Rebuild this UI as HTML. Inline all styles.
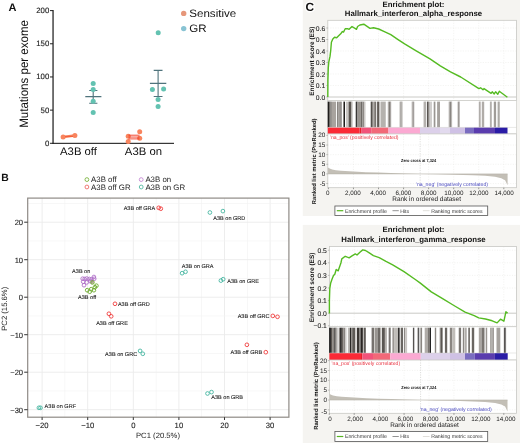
<!DOCTYPE html><html><head><meta charset="utf-8"><style>html,body{margin:0;padding:0;background:#fff;width:520px;height:443px;overflow:hidden}svg{display:block;will-change:transform}text{font-family:"Liberation Sans",sans-serif;text-rendering:geometricPrecision}</style></head><body>
<svg width="520" height="443" viewBox="0 0 520 443">
<text x="8.5" y="10.9" font-size="11" font-weight="bold" fill="#111">A</text>
<rect x="52.4" y="10" width="1.3" height="134" fill="#2a2a2a"/>
<rect x="50" y="142.80" width="3" height="1" fill="#222"/>
<text x="49.3" y="145.80" font-size="7.8" text-anchor="end" fill="#222" stroke="#222" stroke-width="0.12">0</text>
<rect x="50" y="109.62" width="3" height="1" fill="#222"/>
<text x="49.3" y="112.62" font-size="7.8" text-anchor="end" fill="#222" stroke="#222" stroke-width="0.12">50</text>
<rect x="50" y="76.45" width="3" height="1" fill="#222"/>
<text x="49.3" y="79.45" font-size="7.8" text-anchor="end" fill="#222" stroke="#222" stroke-width="0.12">100</text>
<rect x="50" y="43.27" width="3" height="1" fill="#222"/>
<text x="49.3" y="46.27" font-size="7.8" text-anchor="end" fill="#222" stroke="#222" stroke-width="0.12">150</text>
<rect x="50" y="10.10" width="3" height="1" fill="#222"/>
<text x="49.3" y="13.10" font-size="7.8" text-anchor="end" fill="#222" stroke="#222" stroke-width="0.12">200</text>
<text transform="translate(28.1,73.9) scale(1.06,1) rotate(-90)" font-size="11.55" text-anchor="middle" fill="#111">Mutations per exome</text>
<rect x="52.5" y="142.8" width="121.5" height="1.1" fill="#222"/>
<text transform="translate(78.5,155.3) scale(1.035,1)" font-size="10.95" text-anchor="middle" fill="#111">A3B off</text>
<text transform="translate(143.4,155.3) scale(1.035,1)" font-size="10.95" text-anchor="middle" fill="#111">A3B on</text>
<g stroke="#4f737c" stroke-width="1.1" fill="none"><path d="M93.2 90.4V103.2M89.2 90.5H97.4M89.2 103.2H97.4M85.3 96.6H101.4"/></g>
<g stroke="#4f737c" stroke-width="1.1" fill="none"><path d="M158.1 70.4V96.5M153.7 70.4H162.5M153.7 96.5H162.5M149.9 83.4H166.3"/></g>
<circle cx="93.2" cy="83.4" r="2.5" fill="#63c2b1"/>
<circle cx="93.2" cy="89.5" r="2.5" fill="#63c2b1"/>
<circle cx="93.2" cy="101.3" r="2.5" fill="#63c2b1"/>
<circle cx="93.2" cy="112.5" r="2.5" fill="#63c2b1"/>
<circle cx="158.2" cy="32.8" r="2.5" fill="#63c2b1"/>
<circle cx="152.4" cy="89.6" r="2.5" fill="#63c2b1"/>
<circle cx="163.6" cy="89.0" r="2.5" fill="#63c2b1"/>
<circle cx="158.1" cy="99.6" r="2.5" fill="#63c2b1"/>
<circle cx="158.1" cy="106.4" r="2.5" fill="#63c2b1"/>
<circle cx="63.1" cy="137.1" r="2.5" fill="#f8845e"/>
<circle cx="74.9" cy="135.4" r="2.5" fill="#f8845e"/>
<path d="M63.5 137.0L74.5 135.5" stroke="#f8845e" stroke-width="2.6" fill="none"/>
<path d="M65 136.4H73" stroke="#f04a26" stroke-width="0.7" fill="none"/>
<circle cx="128.2" cy="136.3" r="2.5" fill="#f8845e"/>
<circle cx="128.2" cy="141.6" r="2.5" fill="#f8845e"/>
<circle cx="139.7" cy="131.7" r="2.5" fill="#f8845e"/>
<circle cx="139.7" cy="138.3" r="2.5" fill="#f8845e"/>
<g stroke="#f0341c" stroke-width="0.9" fill="none"><path d="M128.5 135.2H139.5M128.5 137.05H139.5M128.5 138.9H139.5"/></g>
<circle cx="183.7" cy="13.4" r="2.7" fill="#e6977a"/>
<circle cx="183.7" cy="28.6" r="2.7" fill="#88c3d3"/>
<text transform="translate(189.3,17.1) scale(1.075,1)" font-size="10.75" fill="#111">Sensitive</text>
<text transform="translate(189.3,32.3) scale(1.075,1)" font-size="10.75" fill="#111">GR</text>
<text x="1.2" y="181.2" font-size="10.4" font-weight="bold" fill="#111">B</text>
<circle cx="86.9" cy="179.6" r="1.9" fill="none" stroke="#79b33b" stroke-width="0.9"/>
<text x="91.10000000000001" y="182.35" font-size="7.85" fill="#222">A3B off</text>
<circle cx="86.9" cy="187.0" r="1.9" fill="none" stroke="#ee6a64" stroke-width="0.9"/>
<text x="91.10000000000001" y="189.75" font-size="7.85" fill="#222">A3B off GR</text>
<circle cx="141.2" cy="179.6" r="1.9" fill="none" stroke="#c487d4" stroke-width="0.9"/>
<text x="145.39999999999998" y="182.35" font-size="7.85" fill="#222">A3B on</text>
<circle cx="141.2" cy="187.0" r="1.9" fill="none" stroke="#53b9a3" stroke-width="0.9"/>
<text x="145.39999999999998" y="189.75" font-size="7.85" fill="#222">A3B on GR</text>
<rect x="41.65" y="198.1" width="0.9" height="219.1" fill="#ebebeb"/>
<rect x="87.25" y="198.1" width="0.9" height="219.1" fill="#ebebeb"/>
<rect x="132.85" y="198.1" width="0.9" height="219.1" fill="#ebebeb"/>
<rect x="178.45" y="198.1" width="0.9" height="219.1" fill="#ebebeb"/>
<rect x="224.05" y="198.1" width="0.9" height="219.1" fill="#ebebeb"/>
<rect x="269.65" y="198.1" width="0.9" height="219.1" fill="#ebebeb"/>
<rect x="64.60" y="198.1" width="0.6" height="219.1" fill="#f2f2f2"/>
<rect x="110.20" y="198.1" width="0.6" height="219.1" fill="#f2f2f2"/>
<rect x="155.80" y="198.1" width="0.6" height="219.1" fill="#f2f2f2"/>
<rect x="201.40" y="198.1" width="0.6" height="219.1" fill="#f2f2f2"/>
<rect x="247.00" y="198.1" width="0.6" height="219.1" fill="#f2f2f2"/>
<rect x="27.7" y="409.25" width="261.2" height="0.9" fill="#ebebeb"/>
<rect x="27.7" y="371.75" width="261.2" height="0.9" fill="#ebebeb"/>
<rect x="27.7" y="334.25" width="261.2" height="0.9" fill="#ebebeb"/>
<rect x="27.7" y="296.75" width="261.2" height="0.9" fill="#ebebeb"/>
<rect x="27.7" y="259.25" width="261.2" height="0.9" fill="#ebebeb"/>
<rect x="27.7" y="221.75" width="261.2" height="0.9" fill="#ebebeb"/>
<rect x="27.7" y="390.65" width="261.2" height="0.6" fill="#f2f2f2"/>
<rect x="27.7" y="353.15" width="261.2" height="0.6" fill="#f2f2f2"/>
<rect x="27.7" y="315.65" width="261.2" height="0.6" fill="#f2f2f2"/>
<rect x="27.7" y="278.15" width="261.2" height="0.6" fill="#f2f2f2"/>
<rect x="27.7" y="240.65" width="261.2" height="0.6" fill="#f2f2f2"/>
<rect x="27.7" y="203.15" width="261.2" height="0.6" fill="#f2f2f2"/>
<rect x="27.7" y="198.1" width="261.2" height="219.1" fill="none" stroke="#8f8b86" stroke-width="1.2"/>
<rect x="24.2" y="409.20" width="3.5" height="1" fill="#333"/>
<text x="23.1" y="412.50" font-size="7.6" text-anchor="end" fill="#222" stroke="#222" stroke-width="0.1">−30</text>
<rect x="24.2" y="371.70" width="3.5" height="1" fill="#333"/>
<text x="23.1" y="375.00" font-size="7.6" text-anchor="end" fill="#222" stroke="#222" stroke-width="0.1">−20</text>
<rect x="24.2" y="334.20" width="3.5" height="1" fill="#333"/>
<text x="23.1" y="337.50" font-size="7.6" text-anchor="end" fill="#222" stroke="#222" stroke-width="0.1">−10</text>
<rect x="24.2" y="296.70" width="3.5" height="1" fill="#333"/>
<text x="23.1" y="300.00" font-size="7.6" text-anchor="end" fill="#222" stroke="#222" stroke-width="0.1">0</text>
<rect x="24.2" y="259.20" width="3.5" height="1" fill="#333"/>
<text x="23.1" y="262.50" font-size="7.6" text-anchor="end" fill="#222" stroke="#222" stroke-width="0.1">10</text>
<rect x="24.2" y="221.70" width="3.5" height="1" fill="#333"/>
<text x="23.1" y="225.00" font-size="7.6" text-anchor="end" fill="#222" stroke="#222" stroke-width="0.1">20</text>
<rect x="41.60" y="417.2" width="1" height="2.8" fill="#333"/>
<text x="42.10" y="427.80" font-size="7.7" text-anchor="middle" fill="#222" stroke="#222" stroke-width="0.1">−20</text>
<rect x="87.20" y="417.2" width="1" height="2.8" fill="#333"/>
<text x="87.70" y="427.80" font-size="7.7" text-anchor="middle" fill="#222" stroke="#222" stroke-width="0.1">−10</text>
<rect x="132.80" y="417.2" width="1" height="2.8" fill="#333"/>
<text x="133.30" y="427.80" font-size="7.7" text-anchor="middle" fill="#222" stroke="#222" stroke-width="0.1">0</text>
<rect x="178.40" y="417.2" width="1" height="2.8" fill="#333"/>
<text x="178.90" y="427.80" font-size="7.7" text-anchor="middle" fill="#222" stroke="#222" stroke-width="0.1">10</text>
<rect x="224.00" y="417.2" width="1" height="2.8" fill="#333"/>
<text x="224.50" y="427.80" font-size="7.7" text-anchor="middle" fill="#222" stroke="#222" stroke-width="0.1">20</text>
<rect x="269.60" y="417.2" width="1" height="2.8" fill="#333"/>
<text x="270.10" y="427.80" font-size="7.7" text-anchor="middle" fill="#222" stroke="#222" stroke-width="0.1">30</text>
<text x="158" y="438.2" font-size="7.7" text-anchor="middle" fill="#222">PC1 (20.5%)</text>
<text transform="translate(7,308.8) rotate(-90)" font-size="7.7" text-anchor="middle" fill="#222">PC2 (15.6%)</text>
<circle cx="82.7" cy="278.7" r="1.85" fill="none" stroke="#b070c8" stroke-width="0.9"/>
<circle cx="84.7" cy="279" r="1.85" fill="none" stroke="#b070c8" stroke-width="0.9"/>
<circle cx="86.7" cy="278.5" r="1.85" fill="none" stroke="#b070c8" stroke-width="0.9"/>
<circle cx="89.4" cy="279" r="1.85" fill="none" stroke="#b070c8" stroke-width="0.9"/>
<circle cx="93.9" cy="277" r="1.85" fill="none" stroke="#b070c8" stroke-width="0.9"/>
<circle cx="94.2" cy="278.8" r="1.85" fill="none" stroke="#b070c8" stroke-width="0.9"/>
<circle cx="91.5" cy="279.3" r="1.85" fill="none" stroke="#b070c8" stroke-width="0.9"/>
<circle cx="83.2" cy="281.7" r="1.85" fill="none" stroke="#b070c8" stroke-width="0.9"/>
<circle cx="86.7" cy="282.4" r="1.85" fill="none" stroke="#b070c8" stroke-width="0.9"/>
<circle cx="84" cy="285.2" r="1.85" fill="none" stroke="#b070c8" stroke-width="0.9"/>
<circle cx="90.4" cy="281.2" r="1.85" fill="none" stroke="#b070c8" stroke-width="0.9"/>
<circle cx="92.4" cy="282.4" r="1.85" fill="none" stroke="#6aa92a" stroke-width="0.9"/>
<circle cx="87.2" cy="290.2" r="1.85" fill="none" stroke="#6aa92a" stroke-width="0.9"/>
<circle cx="89.7" cy="291.7" r="1.85" fill="none" stroke="#6aa92a" stroke-width="0.9"/>
<circle cx="91.2" cy="289.2" r="1.85" fill="none" stroke="#6aa92a" stroke-width="0.9"/>
<circle cx="93.9" cy="290.2" r="1.85" fill="none" stroke="#6aa92a" stroke-width="0.9"/>
<circle cx="94.9" cy="287.2" r="1.85" fill="none" stroke="#6aa92a" stroke-width="0.9"/>
<circle cx="96.4" cy="285.7" r="1.85" fill="none" stroke="#6aa92a" stroke-width="0.9"/>
<circle cx="92.4" cy="282.4" r="1.6" fill="#8a8f55" opacity="0.6"/>
<text x="81.2" y="272.60" font-size="5.55" text-anchor="middle" fill="#1a1a1a" stroke="#1a1a1a" stroke-width="0.09">A3B on</text>
<text x="87.1" y="299.30" font-size="5.55" text-anchor="middle" fill="#1a1a1a" stroke="#1a1a1a" stroke-width="0.09">A3B off</text>
<circle cx="115" cy="303.8" r="1.85" fill="none" stroke="#ef3b3b" stroke-width="0.9"/>
<text x="117.9" y="305.70" font-size="5.55" text-anchor="start" fill="#1a1a1a" stroke="#1a1a1a" stroke-width="0.09">A3B off GRD</text>
<circle cx="108.9" cy="313.75" r="1.85" fill="none" stroke="#ef3b3b" stroke-width="0.9"/>
<circle cx="111.2" cy="316.3" r="1.85" fill="none" stroke="#ef3b3b" stroke-width="0.9"/>
<text x="112" y="324.80" font-size="5.55" text-anchor="middle" fill="#1a1a1a" stroke="#1a1a1a" stroke-width="0.09">A3B off GRE</text>
<circle cx="158.7" cy="207.8" r="1.85" fill="none" stroke="#ef3b3b" stroke-width="0.9"/>
<circle cx="160.8" cy="208.7" r="1.85" fill="none" stroke="#ef3b3b" stroke-width="0.9"/>
<text x="155.3" y="210.40" font-size="5.55" text-anchor="end" fill="#1a1a1a" stroke="#1a1a1a" stroke-width="0.09">A3B off GRA</text>
<circle cx="272.8" cy="315.9" r="1.85" fill="none" stroke="#ef3b3b" stroke-width="0.9"/>
<circle cx="277.5" cy="316.8" r="1.85" fill="none" stroke="#ef3b3b" stroke-width="0.9"/>
<text x="269.6" y="317.80" font-size="5.55" text-anchor="end" fill="#1a1a1a" stroke="#1a1a1a" stroke-width="0.09">A3B off GRC</text>
<circle cx="246.9" cy="344.8" r="1.85" fill="none" stroke="#ef3b3b" stroke-width="0.9"/>
<circle cx="265.8" cy="352.2" r="1.85" fill="none" stroke="#ef3b3b" stroke-width="0.9"/>
<text x="262.2" y="353.70" font-size="5.55" text-anchor="end" fill="#1a1a1a" stroke="#1a1a1a" stroke-width="0.09">A3B off GRB</text>
<circle cx="209.9" cy="212.5" r="1.85" fill="none" stroke="#45b5a0" stroke-width="0.9"/>
<circle cx="222.9" cy="211.1" r="1.85" fill="none" stroke="#45b5a0" stroke-width="0.9"/>
<text x="213.3" y="219.90" font-size="5.55" text-anchor="start" fill="#1a1a1a" stroke="#1a1a1a" stroke-width="0.09">A3B on GRD</text>
<circle cx="182.1" cy="273.2" r="1.85" fill="none" stroke="#45b5a0" stroke-width="0.9"/>
<circle cx="185.5" cy="271.8" r="1.85" fill="none" stroke="#45b5a0" stroke-width="0.9"/>
<text x="181.8" y="268.30" font-size="5.55" text-anchor="start" fill="#1a1a1a" stroke="#1a1a1a" stroke-width="0.09">A3B on GRA</text>
<circle cx="220.9" cy="280.6" r="1.85" fill="none" stroke="#45b5a0" stroke-width="0.9"/>
<circle cx="223.2" cy="279.2" r="1.85" fill="none" stroke="#45b5a0" stroke-width="0.9"/>
<text x="227.2" y="282.50" font-size="5.55" text-anchor="start" fill="#1a1a1a" stroke="#1a1a1a" stroke-width="0.09">A3B on GRE</text>
<circle cx="140.1" cy="350.9" r="1.85" fill="none" stroke="#45b5a0" stroke-width="0.9"/>
<circle cx="142.8" cy="353.8" r="1.85" fill="none" stroke="#45b5a0" stroke-width="0.9"/>
<text x="137.2" y="356.00" font-size="5.55" text-anchor="end" fill="#1a1a1a" stroke="#1a1a1a" stroke-width="0.09">A3B on GRC</text>
<circle cx="207.5" cy="393.5" r="1.85" fill="none" stroke="#45b5a0" stroke-width="0.9"/>
<circle cx="211.5" cy="392.1" r="1.85" fill="none" stroke="#45b5a0" stroke-width="0.9"/>
<text x="211.3" y="399.40" font-size="5.55" text-anchor="start" fill="#1a1a1a" stroke="#1a1a1a" stroke-width="0.09">A3B on GRB</text>
<circle cx="38.9" cy="407.8" r="1.85" fill="none" stroke="#45b5a0" stroke-width="0.9"/>
<circle cx="40.5" cy="407.8" r="1.85" fill="none" stroke="#45b5a0" stroke-width="0.9"/>
<text x="44.6" y="407.80" font-size="5.55" text-anchor="start" fill="#1a1a1a" stroke="#1a1a1a" stroke-width="0.09">A3B on GRF</text><rect x="302.8" y="0" width="217.2" height="216" fill="#f5f4f1"/>
<text x="305.5" y="11.2" font-size="11.9" font-weight="bold" fill="#fff" stroke="#fff" stroke-width="2.6" stroke-linejoin="round" opacity="0.9">C</text>
<text x="305.5" y="11.2" font-size="11.9" font-weight="bold" fill="#111">C</text>
<text x="413.5" y="6.9" font-size="7.8" font-weight="bold" text-anchor="middle" fill="#111">Enrichment plot:</text>
<text x="413.5" y="16.4" font-size="7.8" font-weight="bold" text-anchor="middle" fill="#111">Hallmark_interferon_alpha_response</text>
<rect x="327.8" y="20.3" width="188.7" height="80.4" fill="#fff"/>
<line x1="353.46" y1="20.3" x2="353.46" y2="100.7" stroke="#e9e9e6" stroke-width="0.55" stroke-dasharray="1.1,1.4"/>
<line x1="378.52" y1="20.3" x2="378.52" y2="100.7" stroke="#e9e9e6" stroke-width="0.55" stroke-dasharray="1.1,1.4"/>
<line x1="403.58" y1="20.3" x2="403.58" y2="100.7" stroke="#e9e9e6" stroke-width="0.55" stroke-dasharray="1.1,1.4"/>
<line x1="428.64" y1="20.3" x2="428.64" y2="100.7" stroke="#e9e9e6" stroke-width="0.55" stroke-dasharray="1.1,1.4"/>
<line x1="453.70" y1="20.3" x2="453.70" y2="100.7" stroke="#e9e9e6" stroke-width="0.55" stroke-dasharray="1.1,1.4"/>
<line x1="478.76" y1="20.3" x2="478.76" y2="100.7" stroke="#e9e9e6" stroke-width="0.55" stroke-dasharray="1.1,1.4"/>
<line x1="503.82" y1="20.3" x2="503.82" y2="100.7" stroke="#e9e9e6" stroke-width="0.55" stroke-dasharray="1.1,1.4"/>
<line x1="327.8" y1="85.50" x2="516.5" y2="85.50" stroke="#e9e9e6" stroke-width="0.55" stroke-dasharray="1.1,1.4"/>
<line x1="327.8" y1="74.00" x2="516.5" y2="74.00" stroke="#e9e9e6" stroke-width="0.55" stroke-dasharray="1.1,1.4"/>
<line x1="327.8" y1="62.50" x2="516.5" y2="62.50" stroke="#e9e9e6" stroke-width="0.55" stroke-dasharray="1.1,1.4"/>
<line x1="327.8" y1="51.00" x2="516.5" y2="51.00" stroke="#e9e9e6" stroke-width="0.55" stroke-dasharray="1.1,1.4"/>
<line x1="327.8" y1="39.50" x2="516.5" y2="39.50" stroke="#e9e9e6" stroke-width="0.55" stroke-dasharray="1.1,1.4"/>
<line x1="327.8" y1="28.00" x2="516.5" y2="28.00" stroke="#e9e9e6" stroke-width="0.55" stroke-dasharray="1.1,1.4"/>
<line x1="327.8" y1="97.00" x2="516.5" y2="97.00" stroke="#bdbdb8" stroke-width="0.8"/>
<rect x="327.8" y="20.3" width="188.7" height="80.4" fill="none" stroke="#c8c8c4" stroke-width="0.8"/>
<line x1="326.3" y1="97.00" x2="327.8" y2="97.00" stroke="#999" stroke-width="0.6"/>
<text x="325.2" y="99.50" font-size="6.75" text-anchor="end" fill="#222" stroke="#222" stroke-width="0.08">0.0</text>
<line x1="326.3" y1="85.50" x2="327.8" y2="85.50" stroke="#999" stroke-width="0.6"/>
<text x="325.2" y="88.00" font-size="6.75" text-anchor="end" fill="#222" stroke="#222" stroke-width="0.08">0.1</text>
<line x1="326.3" y1="74.00" x2="327.8" y2="74.00" stroke="#999" stroke-width="0.6"/>
<text x="325.2" y="76.50" font-size="6.75" text-anchor="end" fill="#222" stroke="#222" stroke-width="0.08">0.2</text>
<line x1="326.3" y1="62.50" x2="327.8" y2="62.50" stroke="#999" stroke-width="0.6"/>
<text x="325.2" y="65.00" font-size="6.75" text-anchor="end" fill="#222" stroke="#222" stroke-width="0.08">0.3</text>
<line x1="326.3" y1="51.00" x2="327.8" y2="51.00" stroke="#999" stroke-width="0.6"/>
<text x="325.2" y="53.50" font-size="6.75" text-anchor="end" fill="#222" stroke="#222" stroke-width="0.08">0.4</text>
<line x1="326.3" y1="39.50" x2="327.8" y2="39.50" stroke="#999" stroke-width="0.6"/>
<text x="325.2" y="42.00" font-size="6.75" text-anchor="end" fill="#222" stroke="#222" stroke-width="0.08">0.5</text>
<line x1="326.3" y1="28.00" x2="327.8" y2="28.00" stroke="#999" stroke-width="0.6"/>
<text x="325.2" y="30.50" font-size="6.75" text-anchor="end" fill="#222" stroke="#222" stroke-width="0.08">0.6</text>
<text transform="translate(313.7,61.2) rotate(-90)" font-size="6.45" font-weight="bold" text-anchor="middle" fill="#111">Enrichment score (ES)</text>
<polyline points="327.8,97.0 327.9,80.0 328.3,67.7 328.8,62.0 330.0,56.4 330.7,50.7 331.4,42.3 332.8,38.9 334.5,37.2 336.7,37.8 338.4,36.1 340.7,33.8 342.4,31.5 343.5,32.1 345.2,28.7 347.4,28.7 349.1,29.3 352.0,26.5 356.5,29.3 357.6,26.5 359.9,25.0 363.8,24.2 370.0,28.4 373.5,27.8 378.7,29.0 383.8,31.3 390.8,34.7 397.7,39.3 404.6,43.9 416.2,50.8 430.0,58.9 440.3,65.8 450.5,71.9 460.7,77.0 478.9,88.6 480.6,87.8 483.0,89.8 484.0,88.6 491.1,93.3 492.2,91.8 494.2,93.9 495.6,91.8 497.8,94.3 499.3,91.2 507.4,97.3" fill="none" stroke="#55bb22" stroke-width="1.4" stroke-linejoin="round"/>
<rect x="327.8" y="100.7" width="188.7" height="33.2" fill="#fff" stroke="#c8c8c4" stroke-width="0.6"/>
<rect x="327.70" y="101.6" width="1.50" height="25.80000000000001" fill="#1e1c1b"/>
<rect x="329.20" y="101.6" width="1.30" height="25.80000000000001" fill="#55514d"/>
<rect x="330.50" y="101.6" width="1.30" height="25.80000000000001" fill="#7a7672"/>
<rect x="331.80" y="101.6" width="4.30" height="25.80000000000001" fill="#a8a39e"/>
<rect x="337.00" y="101.6" width="1.10" height="25.80000000000001" fill="#8a8682"/>
<rect x="338.10" y="101.6" width="2.30" height="25.80000000000001" fill="#a09c98"/>
<rect x="340.40" y="101.6" width="1.20" height="25.80000000000001" fill="#6a6662"/>
<rect x="343.00" y="101.6" width="0.90" height="25.80000000000001" fill="#8a8682"/>
<rect x="343.90" y="101.6" width="1.10" height="25.80000000000001" fill="#1e1c1b"/>
<rect x="345.90" y="101.6" width="2.40" height="25.80000000000001" fill="#cac7c4"/>
<rect x="348.30" y="101.6" width="0.50" height="25.80000000000001" fill="#8a8682"/>
<rect x="348.80" y="101.6" width="2.60" height="25.80000000000001" fill="#5a5550"/>
<rect x="351.40" y="101.6" width="1.10" height="25.80000000000001" fill="#b0aca8"/>
<rect x="355.70" y="101.6" width="1.80" height="25.80000000000001" fill="#3a3836"/>
<rect x="357.50" y="101.6" width="3.40" height="25.80000000000001" fill="#98948f"/>
<rect x="360.90" y="101.6" width="1.60" height="25.80000000000001" fill="#6e6a66"/>
<rect x="362.50" y="101.6" width="1.90" height="25.80000000000001" fill="#8e8a86"/>
<rect x="364.40" y="101.6" width="1.10" height="25.80000000000001" fill="#cac7c4"/>
<rect x="370.70" y="101.6" width="1.30" height="25.80000000000001" fill="#55514d"/>
<rect x="372.00" y="101.6" width="1.00" height="25.80000000000001" fill="#8a8682"/>
<rect x="373.00" y="101.6" width="1.20" height="25.80000000000001" fill="#b0aca8"/>
<rect x="374.20" y="101.6" width="2.00" height="25.80000000000001" fill="#7a7570"/>
<rect x="377.10" y="101.6" width="2.30" height="25.80000000000001" fill="#605a55"/>
<rect x="380.50" y="101.6" width="5.25" height="25.80000000000001" fill="#b5b2ae"/>
<rect x="387.80" y="101.6" width="1.20" height="25.80000000000001" fill="#b0aca8"/>
<rect x="389.00" y="101.6" width="1.70" height="25.80000000000001" fill="#807c78"/>
<rect x="390.70" y="101.6" width="0.50" height="25.80000000000001" fill="#b0aca8"/>
<rect x="399.60" y="101.6" width="0.90" height="25.80000000000001" fill="#b0aca8"/>
<rect x="400.50" y="101.6" width="1.10" height="25.80000000000001" fill="#8a8682"/>
<rect x="401.60" y="101.6" width="0.90" height="25.80000000000001" fill="#b0aca8"/>
<rect x="411.70" y="101.6" width="1.00" height="25.80000000000001" fill="#b0aca8"/>
<rect x="412.70" y="101.6" width="1.10" height="25.80000000000001" fill="#8a8682"/>
<rect x="413.80" y="101.6" width="0.50" height="25.80000000000001" fill="#b0aca8"/>
<rect x="423.60" y="101.6" width="1.10" height="25.80000000000001" fill="#b0aca8"/>
<rect x="424.70" y="101.6" width="0.90" height="25.80000000000001" fill="#8a8682"/>
<rect x="425.60" y="101.6" width="0.60" height="25.80000000000001" fill="#b0aca8"/>
<rect x="427.00" y="101.6" width="1.20" height="25.80000000000001" fill="#5a5652"/>
<rect x="428.20" y="101.6" width="1.30" height="25.80000000000001" fill="#7a7672"/>
<rect x="430.60" y="101.6" width="0.80" height="25.80000000000001" fill="#8a8682"/>
<rect x="433.70" y="101.6" width="1.70" height="25.80000000000001" fill="#9a9692"/>
<rect x="437.10" y="101.6" width="2.90" height="25.80000000000001" fill="#a6a29e"/>
<rect x="448.70" y="101.6" width="0.80" height="25.80000000000001" fill="#b0aca8"/>
<rect x="449.50" y="101.6" width="2.00" height="25.80000000000001" fill="#8a8682"/>
<rect x="451.50" y="101.6" width="0.60" height="25.80000000000001" fill="#b0aca8"/>
<rect x="457.60" y="101.6" width="0.60" height="25.80000000000001" fill="#b0aca8"/>
<rect x="458.20" y="101.6" width="1.20" height="25.80000000000001" fill="#8a8682"/>
<rect x="459.40" y="101.6" width="0.50" height="25.80000000000001" fill="#b0aca8"/>
<rect x="478.80" y="101.6" width="0.70" height="25.80000000000001" fill="#b0aca8"/>
<rect x="479.50" y="101.6" width="0.80" height="25.80000000000001" fill="#8a8682"/>
<rect x="480.30" y="101.6" width="0.40" height="25.80000000000001" fill="#b0aca8"/>
<rect x="481.80" y="101.6" width="2.40" height="25.80000000000001" fill="#b0aca8"/>
<rect x="489.90" y="101.6" width="0.70" height="25.80000000000001" fill="#b0aca8"/>
<rect x="490.60" y="101.6" width="0.80" height="25.80000000000001" fill="#8a8682"/>
<rect x="491.40" y="101.6" width="0.40" height="25.80000000000001" fill="#b0aca8"/>
<rect x="493.80" y="101.6" width="2.30" height="25.80000000000001" fill="#a09c98"/>
<rect x="497.60" y="101.6" width="0.80" height="25.80000000000001" fill="#b0aca8"/>
<rect x="498.40" y="101.6" width="0.80" height="25.80000000000001" fill="#8a8682"/>
<rect x="499.20" y="101.6" width="0.70" height="25.80000000000001" fill="#b0aca8"/>
<rect x="327.80" y="127.4" width="31.80" height="6.5" fill="#fb2a36"/>
<rect x="359.60" y="127.4" width="2.00" height="6.5" fill="#e81e2e"/>
<rect x="361.60" y="127.4" width="9.60" height="6.5" fill="#f2537a"/>
<rect x="371.20" y="127.4" width="17.30" height="6.5" fill="#f26878"/>
<rect x="388.50" y="127.4" width="31.50" height="6.5" fill="#fba9d2"/>
<rect x="420.00" y="127.4" width="20.00" height="6.5" fill="#dcd0ea"/>
<rect x="440.00" y="127.4" width="10.00" height="6.5" fill="#e2daee"/>
<rect x="450.00" y="127.4" width="15.00" height="6.5" fill="#cfc1e5"/>
<rect x="465.00" y="127.4" width="9.00" height="6.5" fill="#7a6cc0"/>
<rect x="474.00" y="127.4" width="21.00" height="6.5" fill="#5a3cae"/>
<rect x="495.00" y="127.4" width="12.50" height="6.5" fill="#2a1ca6"/>
<line x1="327.8" y1="127.4" x2="516.5" y2="127.4" stroke="#d0d0cc" stroke-width="0.5"/>
<rect x="327.8" y="133.9" width="188.7" height="53.79999999999998" fill="#fff"/>
<line x1="353.46" y1="133.9" x2="353.46" y2="187.7" stroke="#e9e9e6" stroke-width="0.55" stroke-dasharray="1.1,1.4"/>
<line x1="378.52" y1="133.9" x2="378.52" y2="187.7" stroke="#e9e9e6" stroke-width="0.55" stroke-dasharray="1.1,1.4"/>
<line x1="403.58" y1="133.9" x2="403.58" y2="187.7" stroke="#e9e9e6" stroke-width="0.55" stroke-dasharray="1.1,1.4"/>
<line x1="428.64" y1="133.9" x2="428.64" y2="187.7" stroke="#e9e9e6" stroke-width="0.55" stroke-dasharray="1.1,1.4"/>
<line x1="453.70" y1="133.9" x2="453.70" y2="187.7" stroke="#e9e9e6" stroke-width="0.55" stroke-dasharray="1.1,1.4"/>
<line x1="478.76" y1="133.9" x2="478.76" y2="187.7" stroke="#e9e9e6" stroke-width="0.55" stroke-dasharray="1.1,1.4"/>
<line x1="503.82" y1="133.9" x2="503.82" y2="187.7" stroke="#e9e9e6" stroke-width="0.55" stroke-dasharray="1.1,1.4"/>
<line x1="327.8" y1="145.03" x2="516.5" y2="145.03" stroke="#e9e9e6" stroke-width="0.55" stroke-dasharray="1.1,1.4"/>
<line x1="327.8" y1="154.65" x2="516.5" y2="154.65" stroke="#e9e9e6" stroke-width="0.55" stroke-dasharray="1.1,1.4"/>
<line x1="327.8" y1="164.28" x2="516.5" y2="164.28" stroke="#e9e9e6" stroke-width="0.55" stroke-dasharray="1.1,1.4"/>
<line x1="327.8" y1="183.53" x2="516.5" y2="183.53" stroke="#e9e9e6" stroke-width="0.55" stroke-dasharray="1.1,1.4"/>
<polygon points="327.8,173.9 327.8,167.5 329.7,168.5 332.2,169.5 335.9,170.2 340.9,170.8 353.5,171.6 366.0,172.2 378.5,172.6 391.0,173.0 403.6,173.4 420.2,173.9 434.9,174.3 453.7,174.7 472.5,175.2 485.0,175.8 495.0,176.8 501.3,178.3 505.1,180.3 507.6,185.3 507.6,173.9" fill="#c3bfb6"/>
<line x1="327.8" y1="173.90" x2="507.58" y2="173.90" stroke="#b5b1a8" stroke-width="0.6"/>
<line x1="420.17" y1="133.9" x2="420.17" y2="187.7" stroke="#c8c8c4" stroke-width="0.6" stroke-dasharray="1.2,1.2"/>
<rect x="327.8" y="133.9" width="188.7" height="53.79999999999998" fill="none" stroke="#c8c8c4" stroke-width="0.8"/>
<line x1="326.3" y1="135.40" x2="327.8" y2="135.40" stroke="#999" stroke-width="0.6"/>
<text x="325.40000000000003" y="137.10" font-size="6.4" text-anchor="end" fill="#222">20</text>
<line x1="326.3" y1="145.03" x2="327.8" y2="145.03" stroke="#999" stroke-width="0.6"/>
<text x="325.40000000000003" y="147.00" font-size="6.4" text-anchor="end" fill="#222">15</text>
<line x1="326.3" y1="154.65" x2="327.8" y2="154.65" stroke="#999" stroke-width="0.6"/>
<text x="325.40000000000003" y="156.50" font-size="6.4" text-anchor="end" fill="#222">10</text>
<line x1="326.3" y1="164.28" x2="327.8" y2="164.28" stroke="#999" stroke-width="0.6"/>
<text x="325.40000000000003" y="166.00" font-size="6.4" text-anchor="end" fill="#222">5</text>
<line x1="326.3" y1="173.90" x2="327.8" y2="173.90" stroke="#999" stroke-width="0.6"/>
<text x="325.40000000000003" y="175.50" font-size="6.4" text-anchor="end" fill="#222">0</text>
<line x1="326.3" y1="183.53" x2="327.8" y2="183.53" stroke="#999" stroke-width="0.6"/>
<text x="325.40000000000003" y="185.80" font-size="6.4" text-anchor="end" fill="#222">-5</text>
<text transform="translate(315.8,161.4) rotate(-90)" font-size="5.8" font-weight="bold" text-anchor="middle" fill="#111">Ranked list metric (PreRanked)</text>
<text x="330.0" y="138.60" font-size="5.1" fill="#e8303e">'na_pos' (positively correlated)</text>
<text x="452" y="185.8" font-size="5.2" text-anchor="middle" fill="#4c4cc0">'na_neg' (negatively correlated)</text>
<text x="401.1" y="162.4" font-size="4.4" font-weight="bold" textLength="35" lengthAdjust="spacingAndGlyphs" fill="#111">Zero cross at 7,324</text>
<line x1="328.40" y1="187.7" x2="328.40" y2="189.2" stroke="#555" stroke-width="0.6"/>
<text x="327.80" y="195.2" font-size="6.3" text-anchor="middle" fill="#222">0</text>
<line x1="353.46" y1="187.7" x2="353.46" y2="189.2" stroke="#555" stroke-width="0.6"/>
<text x="353.00" y="195.2" font-size="6.3" text-anchor="middle" fill="#222">2,000</text>
<line x1="378.52" y1="187.7" x2="378.52" y2="189.2" stroke="#555" stroke-width="0.6"/>
<text x="378.20" y="195.2" font-size="6.3" text-anchor="middle" fill="#222">4,000</text>
<line x1="403.58" y1="187.7" x2="403.58" y2="189.2" stroke="#555" stroke-width="0.6"/>
<text x="403.40" y="195.2" font-size="6.3" text-anchor="middle" fill="#222">6,000</text>
<line x1="428.64" y1="187.7" x2="428.64" y2="189.2" stroke="#555" stroke-width="0.6"/>
<text x="428.60" y="195.2" font-size="6.3" text-anchor="middle" fill="#222">8,000</text>
<line x1="453.70" y1="187.7" x2="453.70" y2="189.2" stroke="#555" stroke-width="0.6"/>
<text x="453.80" y="195.2" font-size="6.3" text-anchor="middle" fill="#222">10,000</text>
<line x1="478.76" y1="187.7" x2="478.76" y2="189.2" stroke="#555" stroke-width="0.6"/>
<text x="479.00" y="195.2" font-size="6.3" text-anchor="middle" fill="#222">12,000</text>
<line x1="503.82" y1="187.7" x2="503.82" y2="189.2" stroke="#555" stroke-width="0.6"/>
<text x="504.20" y="195.2" font-size="6.3" text-anchor="middle" fill="#222">14,000</text>
<text x="426.6" y="201.3" font-size="6.45" text-anchor="middle" fill="#222">Rank in ordered dataset</text>
<rect x="334.9" y="206.0" width="152.8" height="9.400000000000006" fill="#fff" stroke="#555" stroke-width="0.8"/>
<line x1="336.8" y1="210.70" x2="343.3" y2="210.70" stroke="#56b520" stroke-width="1.2"/>
<text x="345" y="212.50" font-size="5.2" fill="#3a3a3a">Enrichment profile</text>
<line x1="392.5" y1="210.70" x2="398.8" y2="210.70" stroke="#777" stroke-width="0.8"/>
<text x="400.2" y="212.50" font-size="5.2" fill="#3a3a3a">Hits</text>
<line x1="422.9" y1="210.70" x2="429.6" y2="210.70" stroke="#d8d6d0" stroke-width="0.8"/>
<text x="431.2" y="212.50" font-size="5.2" fill="#3a3a3a">Ranking metric scores</text>
<rect x="302.8" y="224.9" width="217.2" height="218.1" fill="#f5f4f1"/>
<text x="413.5" y="232.4" font-size="7.8" font-weight="bold" text-anchor="middle" fill="#111">Enrichment plot:</text>
<text x="413.5" y="241.6" font-size="7.8" font-weight="bold" text-anchor="middle" fill="#111">Hallmark_interferon_gamma_response</text>
<rect x="329.4" y="246.5" width="187.10000000000002" height="80.30000000000001" fill="#fff"/>
<line x1="354.20" y1="246.5" x2="354.20" y2="326.8" stroke="#e9e9e6" stroke-width="0.55" stroke-dasharray="1.1,1.4"/>
<line x1="379.14" y1="246.5" x2="379.14" y2="326.8" stroke="#e9e9e6" stroke-width="0.55" stroke-dasharray="1.1,1.4"/>
<line x1="404.07" y1="246.5" x2="404.07" y2="326.8" stroke="#e9e9e6" stroke-width="0.55" stroke-dasharray="1.1,1.4"/>
<line x1="429.01" y1="246.5" x2="429.01" y2="326.8" stroke="#e9e9e6" stroke-width="0.55" stroke-dasharray="1.1,1.4"/>
<line x1="453.94" y1="246.5" x2="453.94" y2="326.8" stroke="#e9e9e6" stroke-width="0.55" stroke-dasharray="1.1,1.4"/>
<line x1="478.87" y1="246.5" x2="478.87" y2="326.8" stroke="#e9e9e6" stroke-width="0.55" stroke-dasharray="1.1,1.4"/>
<line x1="503.81" y1="246.5" x2="503.81" y2="326.8" stroke="#e9e9e6" stroke-width="0.55" stroke-dasharray="1.1,1.4"/>
<line x1="329.4" y1="325.80" x2="516.5" y2="325.80" stroke="#e9e9e6" stroke-width="0.55" stroke-dasharray="1.1,1.4"/>
<line x1="329.4" y1="300.60" x2="516.5" y2="300.60" stroke="#e9e9e6" stroke-width="0.55" stroke-dasharray="1.1,1.4"/>
<line x1="329.4" y1="288.00" x2="516.5" y2="288.00" stroke="#e9e9e6" stroke-width="0.55" stroke-dasharray="1.1,1.4"/>
<line x1="329.4" y1="275.40" x2="516.5" y2="275.40" stroke="#e9e9e6" stroke-width="0.55" stroke-dasharray="1.1,1.4"/>
<line x1="329.4" y1="262.80" x2="516.5" y2="262.80" stroke="#e9e9e6" stroke-width="0.55" stroke-dasharray="1.1,1.4"/>
<line x1="329.4" y1="250.20" x2="516.5" y2="250.20" stroke="#e9e9e6" stroke-width="0.55" stroke-dasharray="1.1,1.4"/>
<line x1="329.4" y1="313.20" x2="516.5" y2="313.20" stroke="#bdbdb8" stroke-width="0.8"/>
<rect x="329.4" y="246.5" width="187.10000000000002" height="80.30000000000001" fill="none" stroke="#c8c8c4" stroke-width="0.8"/>
<line x1="327.9" y1="325.80" x2="329.4" y2="325.80" stroke="#999" stroke-width="0.6"/>
<text x="326.79999999999995" y="328.30" font-size="6.75" text-anchor="end" fill="#222" stroke="#222" stroke-width="0.08">−0.1</text>
<line x1="327.9" y1="313.20" x2="329.4" y2="313.20" stroke="#999" stroke-width="0.6"/>
<text x="326.79999999999995" y="315.70" font-size="6.75" text-anchor="end" fill="#222" stroke="#222" stroke-width="0.08">0.0</text>
<line x1="327.9" y1="300.60" x2="329.4" y2="300.60" stroke="#999" stroke-width="0.6"/>
<text x="326.79999999999995" y="303.10" font-size="6.75" text-anchor="end" fill="#222" stroke="#222" stroke-width="0.08">0.1</text>
<line x1="327.9" y1="288.00" x2="329.4" y2="288.00" stroke="#999" stroke-width="0.6"/>
<text x="326.79999999999995" y="290.50" font-size="6.75" text-anchor="end" fill="#222" stroke="#222" stroke-width="0.08">0.2</text>
<line x1="327.9" y1="275.40" x2="329.4" y2="275.40" stroke="#999" stroke-width="0.6"/>
<text x="326.79999999999995" y="277.90" font-size="6.75" text-anchor="end" fill="#222" stroke="#222" stroke-width="0.08">0.3</text>
<line x1="327.9" y1="262.80" x2="329.4" y2="262.80" stroke="#999" stroke-width="0.6"/>
<text x="326.79999999999995" y="265.30" font-size="6.75" text-anchor="end" fill="#222" stroke="#222" stroke-width="0.08">0.4</text>
<line x1="327.9" y1="250.20" x2="329.4" y2="250.20" stroke="#999" stroke-width="0.6"/>
<text x="326.79999999999995" y="252.70" font-size="6.75" text-anchor="end" fill="#222" stroke="#222" stroke-width="0.08">0.5</text>
<text transform="translate(313.5,287.4) rotate(-90)" font-size="6.5" font-weight="bold" text-anchor="middle" fill="#111">Enrichment score (ES)</text>
<polyline points="329.4,313.5 329.4,300.7 329.8,288.5 330.7,283.0 332.1,279.0 333.5,275.6 334.8,274.2 336.2,269.5 338.2,270.8 339.6,266.8 340.9,263.0 341.8,258.9 345.2,256.3 347.4,257.2 349.1,257.8 352.0,255.9 355.3,253.9 357.0,255.0 359.9,252.2 362.7,249.9 365.5,250.5 368.9,252.7 373.4,255.6 379.2,257.6 386.0,261.4 392.7,264.8 404.0,271.6 415.3,279.5 420.0,282.9 431.3,291.9 442.6,298.7 453.9,305.5 465.1,312.2 474.2,315.6 478.7,317.9 485.5,319.0 492.2,320.8 497.1,322.9 500.5,319.2 503.9,321.2 505.9,311.8 507.6,313.1" fill="none" stroke="#55bb22" stroke-width="1.4" stroke-linejoin="round"/>
<rect x="329.4" y="326.8" width="187.10000000000002" height="33.19999999999999" fill="#fff" stroke="#c8c8c4" stroke-width="0.6"/>
<rect x="329.15" y="327.7" width="1.75" height="25.30000000000001" fill="#151515"/>
<rect x="330.90" y="327.7" width="1.70" height="25.30000000000001" fill="#5a5550"/>
<rect x="332.60" y="327.7" width="1.70" height="25.30000000000001" fill="#8a8580"/>
<rect x="334.30" y="327.7" width="1.10" height="25.30000000000001" fill="#2a2826"/>
<rect x="335.40" y="327.7" width="1.00" height="25.30000000000001" fill="#6a6662"/>
<rect x="336.40" y="327.7" width="1.10" height="25.30000000000001" fill="#9a9692"/>
<rect x="338.70" y="327.7" width="1.40" height="25.30000000000001" fill="#8a8682"/>
<rect x="340.10" y="327.7" width="1.70" height="25.30000000000001" fill="#1e1c1b"/>
<rect x="341.80" y="327.7" width="1.70" height="25.30000000000001" fill="#6a6560"/>
<rect x="343.50" y="327.7" width="1.80" height="25.30000000000001" fill="#888480"/>
<rect x="345.30" y="327.7" width="1.20" height="25.30000000000001" fill="#cac7c4"/>
<rect x="347.90" y="327.7" width="2.00" height="25.30000000000001" fill="#bbb8b4"/>
<rect x="349.90" y="327.7" width="1.20" height="25.30000000000001" fill="#2a2826"/>
<rect x="351.10" y="327.7" width="1.10" height="25.30000000000001" fill="#8a8682"/>
<rect x="352.20" y="327.7" width="2.90" height="25.30000000000001" fill="#5e5a56"/>
<rect x="355.10" y="327.7" width="1.20" height="25.30000000000001" fill="#cac7c4"/>
<rect x="356.90" y="327.7" width="2.60" height="25.30000000000001" fill="#3a3633"/>
<rect x="359.50" y="327.7" width="1.10" height="25.30000000000001" fill="#7a7672"/>
<rect x="360.60" y="327.7" width="2.30" height="25.30000000000001" fill="#2a2624"/>
<rect x="362.90" y="327.7" width="0.90" height="25.30000000000001" fill="#cac7c4"/>
<rect x="363.80" y="327.7" width="2.00" height="25.30000000000001" fill="#5e5a56"/>
<rect x="371.60" y="327.7" width="2.60" height="25.30000000000001" fill="#76726e"/>
<rect x="374.20" y="327.7" width="0.80" height="25.30000000000001" fill="#cac7c4"/>
<rect x="375.00" y="327.7" width="2.90" height="25.30000000000001" fill="#9a9692"/>
<rect x="377.90" y="327.7" width="2.30" height="25.30000000000001" fill="#6e6a66"/>
<rect x="380.20" y="327.7" width="1.20" height="25.30000000000001" fill="#b0aca8"/>
<rect x="382.00" y="327.7" width="2.90" height="25.30000000000001" fill="#5a5652"/>
<rect x="384.90" y="327.7" width="2.00" height="25.30000000000001" fill="#b5b2ae"/>
<rect x="388.60" y="327.7" width="0.70" height="25.30000000000001" fill="#8a8682"/>
<rect x="389.30" y="327.7" width="1.10" height="25.30000000000001" fill="#4a4744"/>
<rect x="390.40" y="327.7" width="0.50" height="25.30000000000001" fill="#8a8682"/>
<rect x="392.40" y="327.7" width="1.70" height="25.30000000000001" fill="#9a9692"/>
<rect x="394.10" y="327.7" width="4.00" height="25.30000000000001" fill="#c0bdb9"/>
<rect x="398.10" y="327.7" width="1.50" height="25.30000000000001" fill="#1e1c1b"/>
<rect x="400.70" y="327.7" width="2.30" height="25.30000000000001" fill="#6a6662"/>
<rect x="403.90" y="327.7" width="1.20" height="25.30000000000001" fill="#8a8682"/>
<rect x="405.10" y="327.7" width="2.00" height="25.30000000000001" fill="#cac7c4"/>
<rect x="412.90" y="327.7" width="1.40" height="25.30000000000001" fill="#555250"/>
<rect x="417.50" y="327.7" width="0.80" height="25.30000000000001" fill="#8a8682"/>
<rect x="418.30" y="327.7" width="0.90" height="25.30000000000001" fill="#222"/>
<rect x="420.40" y="327.7" width="1.70" height="25.30000000000001" fill="#8a8682"/>
<rect x="424.70" y="327.7" width="2.90" height="25.30000000000001" fill="#b0aca8"/>
<rect x="427.60" y="327.7" width="2.30" height="25.30000000000001" fill="#7a7672"/>
<rect x="429.90" y="327.7" width="1.10" height="25.30000000000001" fill="#222"/>
<rect x="434.80" y="327.7" width="1.40" height="25.30000000000001" fill="#8a8682"/>
<rect x="439.70" y="327.7" width="1.20" height="25.30000000000001" fill="#8a8682"/>
<rect x="440.90" y="327.7" width="1.70" height="25.30000000000001" fill="#5a5652"/>
<rect x="444.90" y="327.7" width="2.30" height="25.30000000000001" fill="#6a6662"/>
<rect x="449.80" y="327.7" width="2.60" height="25.30000000000001" fill="#8a8682"/>
<rect x="452.40" y="327.7" width="2.90" height="25.30000000000001" fill="#c0bdb9"/>
<rect x="458.75" y="327.7" width="2.35" height="25.30000000000001" fill="#7a7672"/>
<rect x="462.80" y="327.7" width="1.40" height="25.30000000000001" fill="#8a8682"/>
<rect x="464.20" y="327.7" width="1.20" height="25.30000000000001" fill="#cac7c4"/>
<rect x="465.40" y="327.7" width="1.10" height="25.30000000000001" fill="#8a8682"/>
<rect x="468.30" y="327.7" width="1.60" height="25.30000000000001" fill="#6a6662"/>
<rect x="471.80" y="327.7" width="2.40" height="25.30000000000001" fill="#6a6662"/>
<rect x="478.80" y="327.7" width="2.70" height="25.30000000000001" fill="#aaa6a2"/>
<rect x="481.50" y="327.7" width="3.00" height="25.30000000000001" fill="#7a7672"/>
<rect x="485.70" y="327.7" width="1.50" height="25.30000000000001" fill="#9a9692"/>
<rect x="490.30" y="327.7" width="1.30" height="25.30000000000001" fill="#8a8682"/>
<rect x="491.60" y="327.7" width="0.90" height="25.30000000000001" fill="#b0aca8"/>
<rect x="492.50" y="327.7" width="1.30" height="25.30000000000001" fill="#8a8682"/>
<rect x="496.50" y="327.7" width="3.80" height="25.30000000000001" fill="#a6a29e"/>
<rect x="503.80" y="327.7" width="0.50" height="25.30000000000001" fill="#8a8682"/>
<rect x="504.30" y="327.7" width="1.30" height="25.30000000000001" fill="#1e1c1b"/>
<rect x="505.60" y="327.7" width="0.50" height="25.30000000000001" fill="#8a8682"/>
<rect x="329.40" y="353.0" width="31.60" height="7.0" fill="#fb2a36"/>
<rect x="361.00" y="353.0" width="1.50" height="7.0" fill="#e81e2e"/>
<rect x="362.50" y="353.0" width="10.50" height="7.0" fill="#f2537a"/>
<rect x="373.00" y="353.0" width="17.30" height="7.0" fill="#f26878"/>
<rect x="390.30" y="353.0" width="30.50" height="7.0" fill="#fba9d2"/>
<rect x="420.80" y="353.0" width="29.20" height="7.0" fill="#dcd0ea"/>
<rect x="450.00" y="353.0" width="15.00" height="7.0" fill="#cfc1e5"/>
<rect x="465.00" y="353.0" width="9.80" height="7.0" fill="#7a6cc0"/>
<rect x="474.80" y="353.0" width="20.10" height="7.0" fill="#5a3cae"/>
<rect x="494.90" y="353.0" width="12.80" height="7.0" fill="#2a1ca6"/>
<line x1="329.4" y1="353.0" x2="516.5" y2="353.0" stroke="#d0d0cc" stroke-width="0.5"/>
<rect x="329.4" y="360.0" width="187.10000000000002" height="53.30000000000001" fill="#fff"/>
<line x1="354.20" y1="360.0" x2="354.20" y2="413.3" stroke="#e9e9e6" stroke-width="0.55" stroke-dasharray="1.1,1.4"/>
<line x1="379.14" y1="360.0" x2="379.14" y2="413.3" stroke="#e9e9e6" stroke-width="0.55" stroke-dasharray="1.1,1.4"/>
<line x1="404.07" y1="360.0" x2="404.07" y2="413.3" stroke="#e9e9e6" stroke-width="0.55" stroke-dasharray="1.1,1.4"/>
<line x1="429.01" y1="360.0" x2="429.01" y2="413.3" stroke="#e9e9e6" stroke-width="0.55" stroke-dasharray="1.1,1.4"/>
<line x1="453.94" y1="360.0" x2="453.94" y2="413.3" stroke="#e9e9e6" stroke-width="0.55" stroke-dasharray="1.1,1.4"/>
<line x1="478.87" y1="360.0" x2="478.87" y2="413.3" stroke="#e9e9e6" stroke-width="0.55" stroke-dasharray="1.1,1.4"/>
<line x1="503.81" y1="360.0" x2="503.81" y2="413.3" stroke="#e9e9e6" stroke-width="0.55" stroke-dasharray="1.1,1.4"/>
<line x1="329.4" y1="370.45" x2="516.5" y2="370.45" stroke="#e9e9e6" stroke-width="0.55" stroke-dasharray="1.1,1.4"/>
<line x1="329.4" y1="380.30" x2="516.5" y2="380.30" stroke="#e9e9e6" stroke-width="0.55" stroke-dasharray="1.1,1.4"/>
<line x1="329.4" y1="390.15" x2="516.5" y2="390.15" stroke="#e9e9e6" stroke-width="0.55" stroke-dasharray="1.1,1.4"/>
<line x1="329.4" y1="409.85" x2="516.5" y2="409.85" stroke="#e9e9e6" stroke-width="0.55" stroke-dasharray="1.1,1.4"/>
<polygon points="329.4,400.0 329.4,393.5 330.5,394.5 333.0,395.5 336.8,396.3 341.7,396.8 354.2,397.6 366.7,398.2 379.1,398.7 391.6,399.1 404.1,399.5 420.6,400.0 435.2,400.4 453.9,400.8 472.6,401.4 485.1,402.0 495.1,403.0 501.3,404.5 505.1,406.5 507.5,411.6 507.5,400.0" fill="#c3bfb6"/>
<line x1="329.4" y1="400.00" x2="507.55" y2="400.00" stroke="#b5b1a8" stroke-width="0.6"/>
<line x1="420.58" y1="360.0" x2="420.58" y2="413.3" stroke="#c8c8c4" stroke-width="0.6" stroke-dasharray="1.2,1.2"/>
<rect x="329.4" y="360.0" width="187.10000000000002" height="53.30000000000001" fill="none" stroke="#c8c8c4" stroke-width="0.8"/>
<line x1="327.9" y1="360.60" x2="329.4" y2="360.60" stroke="#999" stroke-width="0.6"/>
<text x="327.0" y="363.00" font-size="6.4" text-anchor="end" fill="#222">20</text>
<line x1="327.9" y1="370.45" x2="329.4" y2="370.45" stroke="#999" stroke-width="0.6"/>
<text x="327.0" y="372.80" font-size="6.4" text-anchor="end" fill="#222">15</text>
<line x1="327.9" y1="380.30" x2="329.4" y2="380.30" stroke="#999" stroke-width="0.6"/>
<text x="327.0" y="382.30" font-size="6.4" text-anchor="end" fill="#222">10</text>
<line x1="327.9" y1="390.15" x2="329.4" y2="390.15" stroke="#999" stroke-width="0.6"/>
<text x="327.0" y="392.10" font-size="6.4" text-anchor="end" fill="#222">5</text>
<line x1="327.9" y1="400.00" x2="329.4" y2="400.00" stroke="#999" stroke-width="0.6"/>
<text x="327.0" y="402.10" font-size="6.4" text-anchor="end" fill="#222">0</text>
<line x1="327.9" y1="409.85" x2="329.4" y2="409.85" stroke="#999" stroke-width="0.6"/>
<text x="327.0" y="414.20" font-size="6.4" text-anchor="end" fill="#222">-5</text>
<text transform="translate(318.0,386.1) rotate(-90)" font-size="5.93" font-weight="bold" text-anchor="middle" fill="#111">Ranked list metric (PreRanked)</text>
<text x="331.59999999999997" y="364.70" font-size="5.1" fill="#e8303e">'na_pos' (positively correlated)</text>
<text x="455.8" y="411.2" font-size="5.2" text-anchor="middle" fill="#4c4cc0">'na_neg' (negatively correlated)</text>
<text x="401.3" y="388.5" font-size="4.4" font-weight="bold" textLength="35" lengthAdjust="spacingAndGlyphs" fill="#111">Zero cross at 7,324</text>
<line x1="329.27" y1="413.3" x2="329.27" y2="414.8" stroke="#555" stroke-width="0.6"/>
<text x="330.00" y="421.0" font-size="6.3" text-anchor="middle" fill="#222">0</text>
<line x1="354.20" y1="413.3" x2="354.20" y2="414.8" stroke="#555" stroke-width="0.6"/>
<text x="355.14" y="421.0" font-size="6.3" text-anchor="middle" fill="#222">2,000</text>
<line x1="379.14" y1="413.3" x2="379.14" y2="414.8" stroke="#555" stroke-width="0.6"/>
<text x="380.28" y="421.0" font-size="6.3" text-anchor="middle" fill="#222">4,000</text>
<line x1="404.07" y1="413.3" x2="404.07" y2="414.8" stroke="#555" stroke-width="0.6"/>
<text x="405.42" y="421.0" font-size="6.3" text-anchor="middle" fill="#222">6,000</text>
<line x1="429.01" y1="413.3" x2="429.01" y2="414.8" stroke="#555" stroke-width="0.6"/>
<text x="430.56" y="421.0" font-size="6.3" text-anchor="middle" fill="#222">8,000</text>
<line x1="453.94" y1="413.3" x2="453.94" y2="414.8" stroke="#555" stroke-width="0.6"/>
<text x="455.70" y="421.0" font-size="6.3" text-anchor="middle" fill="#222">10,000</text>
<line x1="478.87" y1="413.3" x2="478.87" y2="414.8" stroke="#555" stroke-width="0.6"/>
<text x="480.84" y="421.0" font-size="6.3" text-anchor="middle" fill="#222">12,000</text>
<line x1="503.81" y1="413.3" x2="503.81" y2="414.8" stroke="#555" stroke-width="0.6"/>
<text x="505.98" y="421.0" font-size="6.3" text-anchor="middle" fill="#222">14,000</text>
<text x="424.5" y="427.3" font-size="6.45" text-anchor="middle" fill="#222">Rank in ordered dataset</text>
<rect x="334.9" y="431.5" width="152.8" height="10.0" fill="#fff" stroke="#555" stroke-width="0.8"/>
<line x1="336.8" y1="436.50" x2="343.3" y2="436.50" stroke="#56b520" stroke-width="1.2"/>
<text x="345" y="438.30" font-size="5.2" fill="#3a3a3a">Enrichment profile</text>
<line x1="392.5" y1="436.50" x2="398.8" y2="436.50" stroke="#777" stroke-width="0.8"/>
<text x="400.2" y="438.30" font-size="5.2" fill="#3a3a3a">Hits</text>
<line x1="422.9" y1="436.50" x2="429.6" y2="436.50" stroke="#d8d6d0" stroke-width="0.8"/>
<text x="431.2" y="438.30" font-size="5.2" fill="#3a3a3a">Ranking metric scores</text></svg></body></html>
